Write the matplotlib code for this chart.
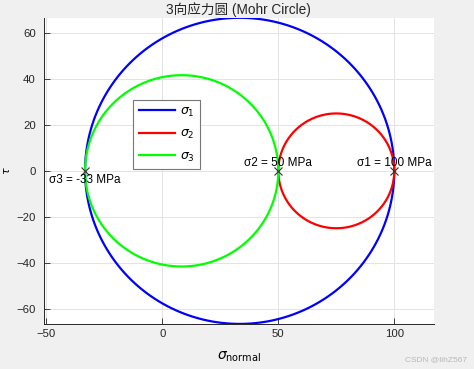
import numpy as np
import matplotlib.pyplot as plt

plt.rcParams['font.family'] = ['Liberation Sans', 'Noto Sans CJK SC', 'DejaVu Sans']

# principal stresses (MPa)
sigma1 = 100.0
sigma2 = 50.0
sigma3 = -100.0 / 3
stress_names = ['σ1', 'σ2', 'σ3']
stress_values = [sigma1, sigma2, sigma3]
# circles: (left, right) pairs and colors
circle_pairs = [(sigma3, sigma1), (sigma2, sigma1), (sigma3, sigma2)]
circle_labels = [r'$\sigma_1$', r'$\sigma_2$', r'$\sigma_3$']
circle_colors = ['#0000ff', '#ff0000', '#00ff00']

fig = plt.figure(figsize=(4.74, 3.69), dpi=100)
fig.patch.set_facecolor('#f0f0f0')
ax = fig.add_axes([0.093, 0.122, 0.822, 0.830])
ax.set_facecolor('white')

t = np.linspace(0, 2 * np.pi, 400)
handles = []
for (a, b), lab, col in zip(circle_pairs, circle_labels, circle_colors):
    c = (a + b) / 2
    r = (b - a) / 2
    h, = ax.plot(c + r * np.cos(t), r * np.sin(t), color=col, lw=1.6, label=lab)
    handles.append(h)

for name, v in zip(stress_names, stress_values):
    ax.plot(v, 0, 'x', color='#333333', ms=6, mew=0.8)
    if v < 0:
        ax.text(v, -1.5, f'{name} = {v:.0f} MPa', ha='center', va='top', fontsize=8.5)
    else:
        ax.text(v, 1.0, f'{name} = {v:.0f} MPa', ha='center', va='bottom', fontsize=8.5)

ax.set_xlim(-51, 117)
ax.set_ylim(-66.7, 66.7)
ax.set_xticks([-50, 0, 50, 100])
ax.set_yticks([-60, -40, -20, 0, 20, 40, 60])
ax.grid(True, color='#e3e3e3', lw=0.7)
ax.set_axisbelow(True)
for s in ['top', 'right']:
    ax.spines[s].set_visible(False)
for s in ['left', 'bottom']:
    ax.spines[s].set_color('#262626')
    ax.spines[s].set_linewidth(0.7)
ax.tick_params(direction='in', length=4, width=0.6, labelsize=8.2, colors='#262626')
ax.tick_params(axis='y', pad=6)

ax.set_title('3向应力圆 (Mohr Circle)', fontsize=9.8, pad=3, color='#262626')
ax.set_xlabel(r'$\sigma_{\mathrm{normal}}$', fontsize=10, labelpad=8)
ax.set_ylabel(r'$\tau$', fontsize=8)
ax.yaxis.set_label_coords(-0.082, 0.5)

leg = ax.legend(handles=handles, loc='upper left', bbox_to_anchor=(0.281, 0.729),
                bbox_transform=fig.transFigure, fancybox=False, framealpha=1,
                edgecolor='#777777', fontsize=9, handlelength=2.9, handletextpad=0.4,
                borderpad=0.45, labelspacing=0.75, borderaxespad=0)
leg.get_frame().set_linewidth(0.8)

fig.text(0.985, 0.015, 'CSDN @lihZ567', ha='right', va='bottom', fontsize=6, color='#b8b8b8')

fig.savefig('out.png', dpi=100, facecolor=fig.get_facecolor())
